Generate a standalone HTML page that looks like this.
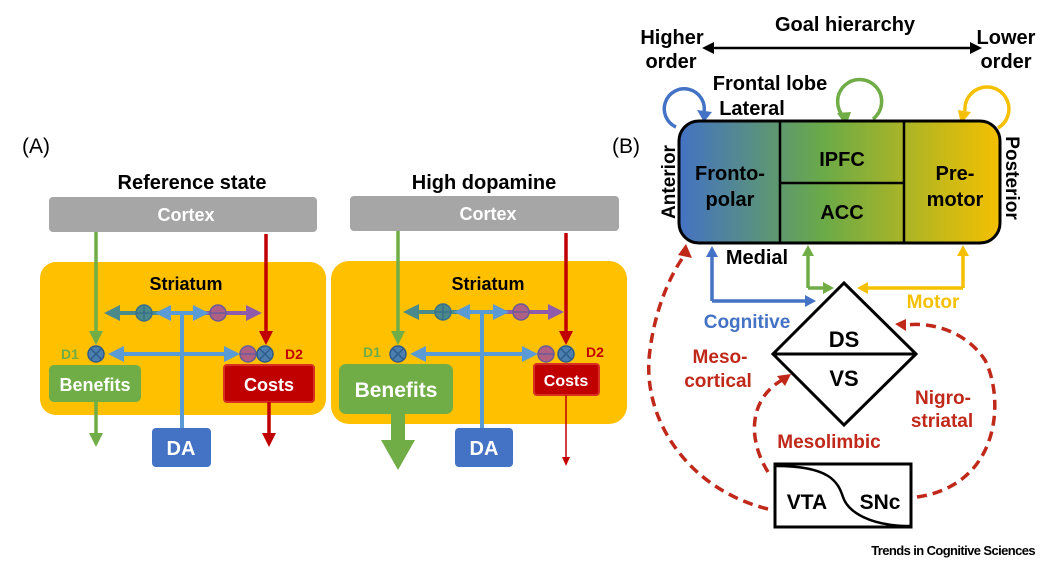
<!DOCTYPE html>
<html><head><meta charset="utf-8"><style>
html,body{margin:0;padding:0;background:#fff;}
svg{display:block;font-family:"Liberation Sans",Arial,sans-serif;}
</style></head><body>
<svg width="1059" height="561" viewBox="0 0 1059 561" xmlns="http://www.w3.org/2000/svg">
<defs>
<linearGradient id="fg" x1="0" x2="1" y1="0" y2="0">
<stop offset="0" stop-color="#4472c4"/><stop offset="0.45" stop-color="#6aaa48"/><stop offset="1" stop-color="#f5c000"/>
</linearGradient>
<marker id="ab" markerWidth="4" markerHeight="4" refX="2" refY="2" orient="auto" markerUnits="strokeWidth"><path d="M0,0 L4,2 L0,4Z" fill="#5b9bd5"/></marker>
<marker id="ag" markerWidth="4" markerHeight="4" refX="2" refY="2" orient="auto" markerUnits="strokeWidth"><path d="M0,0 L4,2 L0,4Z" fill="#70ad47"/></marker>
<marker id="ar" markerWidth="4" markerHeight="4" refX="2" refY="2" orient="auto" markerUnits="strokeWidth"><path d="M0,0 L4,2 L0,4Z" fill="#c00000"/></marker>
<marker id="ap" markerWidth="4" markerHeight="4" refX="2" refY="2" orient="auto" markerUnits="strokeWidth"><path d="M0,0 L4,2 L0,4Z" fill="#8e5cab"/></marker>
<marker id="at" markerWidth="4" markerHeight="4" refX="2" refY="2" orient="auto" markerUnits="strokeWidth"><path d="M0,0 L4,2 L0,4Z" fill="#4a8a8a"/></marker>
<g id="xc"><circle r="8" fill="#4a7fb0" stroke="#2f5b8a" stroke-width="1.5"/><path d="M-5.5,-5.5 L5.5,5.5 M-5.5,5.5 L5.5,-5.5" stroke="#2f5b8a" stroke-width="1.5"/></g>
<g id="pc"><circle r="8" fill="#4a8a8a" stroke="#3a6f8a" stroke-width="1.5"/><path d="M-8,0 H8 M0,-8 V8" stroke="#3a6f8a" stroke-width="1.5"/></g>
<g id="mc"><circle r="8" fill="#b06080" stroke="#6a5a9a" stroke-width="1.5"/><path d="M-8,0 H8" stroke="#6a5a9a" stroke-width="1.5"/></g>
</defs>

<!-- Panel A -->
<text x="22" y="153" font-size="21">(A)</text>
<text x="192" y="189" font-size="20" font-weight="bold" text-anchor="middle">Reference state</text>
<text x="484" y="189" font-size="20" font-weight="bold" text-anchor="middle">High dopamine</text>

<!-- left -->
<rect x="49" y="197" width="268" height="35" rx="4" fill="#a6a6a6"/>
<text x="186" y="221" font-size="18" font-weight="bold" fill="#fff" text-anchor="middle">Cortex</text>
<rect x="40" y="262" width="286" height="153" rx="16" fill="#ffc000"/>
<text x="186" y="290" font-size="18" font-weight="bold" text-anchor="middle">Striatum</text>
<line x1="96" y1="232" x2="96" y2="338" stroke="#70ad47" stroke-width="3.5" marker-end="url(#ag)"/>
<line x1="266" y1="234" x2="266" y2="338" stroke="#c00000" stroke-width="3.5" marker-end="url(#ar)"/>
<line x1="182" y1="313" x2="182" y2="430" stroke="#5b9bd5" stroke-width="4"/>
<line x1="182" y1="313" x2="112" y2="313" stroke="#4a8a8a" stroke-width="4" marker-end="url(#at)"/>
<line x1="182" y1="313" x2="254" y2="313" stroke="#8e5cab" stroke-width="4" marker-end="url(#ap)"/>
<line x1="182" y1="313" x2="163" y2="313" stroke="#5b9bd5" stroke-width="4" marker-end="url(#ab)"/>
<line x1="182" y1="313" x2="201" y2="313" stroke="#5b9bd5" stroke-width="4" marker-end="url(#ab)"/>
<line x1="182" y1="354" x2="116" y2="354" stroke="#5b9bd5" stroke-width="4" marker-end="url(#ab)"/>
<line x1="182" y1="354" x2="232" y2="354" stroke="#5b9bd5" stroke-width="4" marker-end="url(#ab)"/>
<use href="#pc" x="144" y="313"/><use href="#mc" x="218" y="313"/>
<use href="#xc" x="96" y="354"/><use href="#mc" x="248" y="354"/><use href="#xc" x="265" y="354"/>
<text x="70" y="359" font-size="14" font-weight="bold" fill="#70ad47" text-anchor="middle">D1</text>
<text x="294" y="359" font-size="14" font-weight="bold" fill="#c00000" text-anchor="middle">D2</text>
<rect x="49" y="365" width="92" height="37" rx="5" fill="#70ad47"/>
<text x="95" y="391" font-size="18" font-weight="bold" fill="#fff" text-anchor="middle">Benefits</text>
<rect x="224" y="365" width="90" height="37" rx="3" fill="#c00000" stroke="#d83020" stroke-width="2"/>
<text x="269" y="391" font-size="18" font-weight="bold" fill="#fff" text-anchor="middle">Costs</text>
<line x1="96" y1="402" x2="96" y2="440" stroke="#70ad47" stroke-width="3.5" marker-end="url(#ag)"/>
<line x1="269" y1="402" x2="269" y2="440" stroke="#c00000" stroke-width="3.5" marker-end="url(#ar)"/>
<rect x="152" y="428" width="59" height="39" rx="4" fill="#4472c4"/>
<text x="181" y="455" font-size="20" font-weight="bold" fill="#fff" text-anchor="middle">DA</text>

<!-- right -->
<rect x="350" y="196" width="269" height="35" rx="4" fill="#a6a6a6"/>
<text x="488" y="220" font-size="18" font-weight="bold" fill="#fff" text-anchor="middle">Cortex</text>
<rect x="331" y="261" width="296" height="163" rx="18" fill="#ffc000"/>
<text x="488" y="290" font-size="18" font-weight="bold" text-anchor="middle">Striatum</text>
<line x1="398" y1="231" x2="398" y2="338" stroke="#70ad47" stroke-width="3.5" marker-end="url(#ag)"/>
<line x1="566" y1="233" x2="566" y2="338" stroke="#c00000" stroke-width="3.5" marker-end="url(#ar)"/>
<line x1="482" y1="312" x2="482" y2="430" stroke="#5b9bd5" stroke-width="4"/>
<line x1="482" y1="312" x2="411" y2="312" stroke="#4a8a8a" stroke-width="4" marker-end="url(#at)"/>
<line x1="482" y1="312" x2="556" y2="312" stroke="#8e5cab" stroke-width="4" marker-end="url(#ap)"/>
<line x1="482" y1="312" x2="462" y2="312" stroke="#5b9bd5" stroke-width="4" marker-end="url(#ab)"/>
<line x1="482" y1="312" x2="501" y2="312" stroke="#5b9bd5" stroke-width="4" marker-end="url(#ab)"/>
<line x1="482" y1="354" x2="418" y2="354" stroke="#5b9bd5" stroke-width="4" marker-end="url(#ab)"/>
<line x1="482" y1="354" x2="530" y2="354" stroke="#5b9bd5" stroke-width="4" marker-end="url(#ab)"/>
<use href="#pc" x="443" y="312"/><use href="#mc" x="521" y="312"/>
<use href="#xc" x="398" y="354"/><use href="#mc" x="546" y="354"/><use href="#xc" x="566" y="354"/>
<text x="372" y="357" font-size="14" font-weight="bold" fill="#70ad47" text-anchor="middle">D1</text>
<text x="595" y="357" font-size="14" font-weight="bold" fill="#c00000" text-anchor="middle">D2</text>
<rect x="339" y="364" width="114" height="50" rx="7" fill="#70ad47"/>
<text x="396" y="397" font-size="21" font-weight="bold" fill="#fff" text-anchor="middle">Benefits</text>
<rect x="534" y="364" width="65" height="31" rx="3" fill="#c00000" stroke="#d83020" stroke-width="2"/>
<text x="566" y="386" font-size="16" font-weight="bold" fill="#fff" text-anchor="middle">Costs</text>
<rect x="391" y="414" width="14" height="27" fill="#70ad47"/>
<path d="M381,440 L415,440 L398,470Z" fill="#70ad47"/>
<line x1="566" y1="395" x2="566" y2="458" stroke="#c00000" stroke-width="1.5"/>
<path d="M562,457 L570,457 L566,466Z" fill="#c00000"/>
<rect x="455" y="428" width="58" height="39" rx="4" fill="#4472c4"/>
<text x="484" y="455" font-size="20" font-weight="bold" fill="#fff" text-anchor="middle">DA</text>

<!-- Panel B -->
<text x="612" y="153" font-size="21">(B)</text>
<text x="845" y="31" font-size="20" font-weight="bold" text-anchor="middle">Goal hierarchy</text>
<text x="672" y="44" font-size="20" font-weight="bold" text-anchor="middle">Higher</text>
<text x="671" y="68" font-size="20" font-weight="bold" text-anchor="middle">order</text>
<text x="1006" y="44" font-size="20" font-weight="bold" text-anchor="middle">Lower</text>
<text x="1006" y="68" font-size="20" font-weight="bold" text-anchor="middle">order</text>
<line x1="712" y1="48" x2="972" y2="48" stroke="#000" stroke-width="2.5"/>
<path d="M702,48 L714,42 L714,54Z"/>
<path d="M982,48 L970,42 L970,54Z"/>
<text x="770" y="90" font-size="20" font-weight="bold" text-anchor="middle">Frontal lobe</text>
<text x="752" y="115" font-size="20" font-weight="bold" text-anchor="middle">Lateral</text>

<!-- loops -->
<path d="M676,127 A20,20 0 1,1 704,112" fill="none" stroke="#4472c4" stroke-width="3.5"/>
<path d="M697,110 L712,112 L704,122Z" fill="#4472c4"/>
<path d="M873,119 A22,22 0 1,0 844,117" fill="none" stroke="#70ad47" stroke-width="3.5"/>
<path d="M837,113 L846,126 L851,112Z" fill="#70ad47"/>
<path d="M998,128 A22,22 0 1,0 965,111" fill="none" stroke="#f5c000" stroke-width="3.5"/>
<path d="M958,110 L961,124 L971,112Z" fill="#f5c000"/>

<rect x="679" y="121" width="321" height="122" rx="20" fill="url(#fg)" stroke="#000" stroke-width="3"/>
<line x1="780" y1="121" x2="780" y2="243" stroke="#000" stroke-width="2.5"/>
<line x1="904" y1="121" x2="904" y2="243" stroke="#000" stroke-width="2.5"/>
<line x1="780" y1="183" x2="904" y2="183" stroke="#000" stroke-width="2.5"/>
<text x="730" y="180" font-size="20" font-weight="bold" text-anchor="middle">Fronto-</text>
<text x="730" y="206" font-size="20" font-weight="bold" text-anchor="middle">polar</text>
<text x="842" y="166" font-size="20" font-weight="bold" text-anchor="middle">IPFC</text>
<text x="842" y="219" font-size="20" font-weight="bold" text-anchor="middle">ACC</text>
<text x="955" y="180" font-size="20" font-weight="bold" text-anchor="middle">Pre-</text>
<text x="955" y="206" font-size="20" font-weight="bold" text-anchor="middle">motor</text>
<text transform="translate(675,182) rotate(-90)" font-size="19" font-weight="bold" text-anchor="middle">Anterior</text>
<text transform="translate(1006,178) rotate(90)" font-size="19" font-weight="bold" text-anchor="middle">Posterior</text>
<text x="757" y="264" font-size="20" font-weight="bold" text-anchor="middle">Medial</text>

<!-- connectors -->
<path d="M712,301 L712,256" fill="none" stroke="#4472c4" stroke-width="3.5"/>
<path d="M706,257 L718,257 L712,246Z" fill="#4472c4"/>
<path d="M712,301 L806,301" fill="none" stroke="#4472c4" stroke-width="3.5"/>
<path d="M805,295 L805,307 L816,301Z" fill="#4472c4"/>
<text x="747" y="328" font-size="19" font-weight="bold" fill="#4472c4" text-anchor="middle">Cognitive</text>
<path d="M808,288 L808,254" fill="none" stroke="#70ad47" stroke-width="3.5"/>
<path d="M802,256 L814,256 L808,245Z" fill="#70ad47"/>
<path d="M808,288 L825,288" fill="none" stroke="#70ad47" stroke-width="3.5"/>
<path d="M823,282 L823,294 L834,288Z" fill="#70ad47"/>
<path d="M963,288 L963,254" fill="none" stroke="#f5c000" stroke-width="3.5"/>
<path d="M957,256 L969,256 L963,245Z" fill="#f5c000"/>
<path d="M963,288 L866,288" fill="none" stroke="#f5c000" stroke-width="3.5"/>
<path d="M868,282 L868,294 L857,288Z" fill="#f5c000"/>
<text x="933" y="308" font-size="19" font-weight="bold" fill="#f5c000" text-anchor="middle">Motor</text>

<!-- diamond -->
<path d="M844,283 L916,354 L844,425 L773,354Z" fill="#fff" stroke="#000" stroke-width="3"/>
<line x1="773" y1="354" x2="916" y2="354" stroke="#000" stroke-width="3"/>
<text x="844" y="347" font-size="22" font-weight="bold" text-anchor="middle">DS</text>
<text x="844" y="386" font-size="22" font-weight="bold" text-anchor="middle">VS</text>

<!-- VTA/SNc -->
<rect x="775" y="464" width="136" height="63" fill="#fff" stroke="#000" stroke-width="3"/>
<path d="M776,466 C830,466 838,482 843,497 C848,512 870,526 910,526" fill="none" stroke="#000" stroke-width="2.5"/>
<text x="807" y="509" font-size="21" font-weight="bold" text-anchor="middle">VTA</text>
<text x="880" y="509" font-size="21" font-weight="bold" text-anchor="middle">SNc</text>

<!-- dashed -->
<g fill="none" stroke="#c0281a" stroke-width="3.5" stroke-dasharray="10,6">
<path d="M768,509 C690,490 640,420 650,350 C655,310 670,275 684,256"/>
<path d="M768,472 C748,440 748,400 782,380"/>
<path d="M917,497 C1000,485 1005,400 985,360 C965,330 930,322 906,325"/>
</g>
<path d="M678,255 L692,258 L686,244Z" fill="#c0281a"/>
<path d="M777,376 L791,374 L785,386Z" fill="#c0281a"/>
<path d="M906,319 L906,331 L895,324Z" fill="#c0281a"/>
<text x="720" y="363" font-size="19" font-weight="bold" fill="#c0281a" text-anchor="middle">Meso-</text>
<text x="718" y="387" font-size="19" font-weight="bold" fill="#c0281a" text-anchor="middle">cortical</text>
<text x="829" y="448" font-size="19" font-weight="bold" fill="#c0281a" text-anchor="middle">Mesolimbic</text>
<text x="943" y="404" font-size="19" font-weight="bold" fill="#c0281a" text-anchor="middle">Nigro-</text>
<text x="942" y="427" font-size="19" font-weight="bold" fill="#c0281a" text-anchor="middle">striatal</text>

<text x="1035" y="555" font-size="13" font-weight="bold" text-anchor="end" letter-spacing="-0.6">Trends in Cognitive Sciences</text>
</svg>
</body></html>
